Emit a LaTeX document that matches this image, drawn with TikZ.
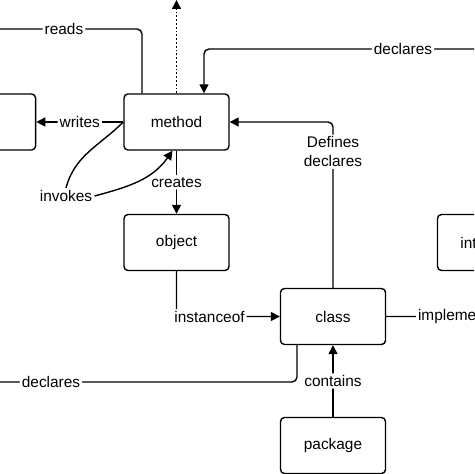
\documentclass[tikz,border=0pt]{standalone}
\usepackage{fontspec}
\setmainfont{Liberation Sans}
\usetikzlibrary{arrows.meta, positioning}
\tikzset{
    entity/.style={
        rectangle, rounded corners=2pt, minimum width=52.5pt, minimum height=28pt,
        text centered, draw=black, line width=0.7pt, font=\fontsize{7.7}{9.5}\selectfont
    },
    rel/.style={
        fill=white, inner sep=1pt, font=\fontsize{7.7}{9.5}\selectfont
    },
    link/.style={line width=0.7pt, rounded corners=2.5pt},
    arrow/.style={link, -{Triangle[length=4.5pt, width=4.5pt]}}
}

\begin{document}
\begin{tikzpicture}[x=0.5pt, y=-0.5pt, node distance=60.25pt]
    \useasboundingbox (0,0) rectangle (474,474);
    \clip (0,0) rectangle (474,474);
    \node (method) [entity] at (176.5,122) {method};
    \node (field) [entity, left=43.5pt of method] {};
    \node (object) [entity, below of=method] {object};
    \node (class) [entity] at (333,316.5) {class};
    \node (package) [entity, below of=class, node distance=64.5pt] {package};
    \node (interface) [entity] at (490,242.5) {interface};
    \node (invokes) [rel] at (66,196) {invokes};
    % free ends leaving the visible part
    \coordinate (fieldread) at (-14,29);
    \coordinate (callup) at (176.5,0);
    \coordinate (ifacedecl) at (602,49);
    \coordinate (fielddecl) at (-195,382);
    \draw [arrow] (method) -- node[rel]{writes} (field);
    \draw [link] ([xshift=-17.25pt]method.north) |- node[rel, pos=0.75]{reads} (fieldread);
    \draw [arrow, dash pattern=on 0.9pt off 1pt] (method.north) -- (callup);
    \draw [arrow] (ifacedecl) -| node[rel, pos=0.25]{declares} ([xshift=13.75pt]method.north);
    \draw [arrow] (class.north) |- node[rel, pos=0.41, align=center]{Defines\\declares} (method.east);
    \draw [link] (method.west) to[out=225, in=75] (invokes.north);
    \draw [arrow] (invokes.east) to[out=15, in=235] ([xshift=-2pt]method.south);
    \draw [arrow] (method) -- node[rel]{creates} (object);
    \draw [arrow] (object) |- node[rel, pos=0.66]{instanceof} (class);
    \draw [arrow] (class) -| node[rel, pos=0.343]{implements} (interface);
    \draw [arrow] ([xshift=-18pt]class.south) |- node[rel, pos=0.75]{declares} (fielddecl);
    \draw [arrow] (package) -- node[rel]{contains} (class);
\end{tikzpicture}
\end{document}
